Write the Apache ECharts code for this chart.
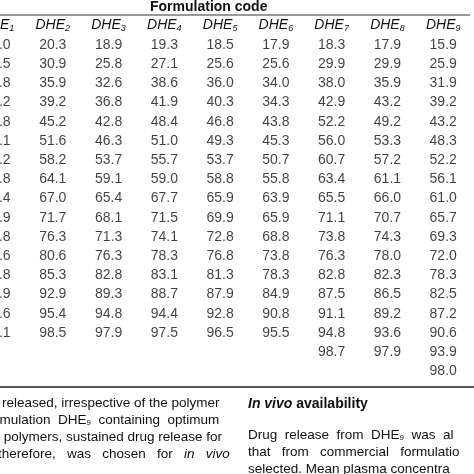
<!DOCTYPE html>
<html><head><meta charset="utf-8">
<script src="https://cdn.jsdelivr.net/npm/echarts@6/dist/echarts.min.js"></script>
<style>html,body{margin:0;padding:0;background:#fff}#c{width:474px;height:474px}</style>
</head><body><div id="c"></div>
<script>
const columns = ['1','2','3','4','5','6','7','8','9'];
const DHE1 = ['21.0','31.5','41.8','51.2','61.8','71.1','81.2','91.8','91.4','91.9','91.8','91.6','91.8','91.9','91.6','91.1'];
const DHE2 = ['20.3','30.9','35.9','39.2','45.2','51.6','58.2','64.1','67.0','71.7','76.3','80.6','85.3','92.9','95.4','98.5'];
const DHE3 = ['18.9','25.8','32.6','36.8','42.8','46.3','53.7','59.1','65.4','68.1','71.3','76.3','82.8','89.3','94.8','97.9'];
const DHE4 = ['19.3','27.1','38.6','41.9','48.4','51.0','55.7','59.0','67.7','71.5','74.1','78.3','83.1','88.7','94.4','97.5'];
const DHE5 = ['18.5','25.6','36.0','40.3','46.8','49.3','53.7','58.8','65.9','69.9','72.8','76.8','81.3','87.9','92.8','96.5'];
const DHE6 = ['17.9','25.6','34.0','34.3','43.8','45.3','50.7','55.8','63.9','65.9','68.8','73.8','78.3','84.9','90.8','95.5'];
const DHE7 = ['18.3','29.9','38.0','42.9','52.2','56.0','60.7','63.4','65.5','71.1','73.8','76.3','82.8','87.5','91.1','94.8','98.7'];
const DHE8 = ['17.9','29.9','35.9','43.2','49.2','53.3','57.2','61.1','66.0','70.7','74.3','78.0','82.3','86.5','89.2','93.6','97.9'];
const DHE9 = ['15.9','25.9','31.9','39.2','43.2','48.3','52.2','56.1','61.0','65.7','69.3','72.0','78.3','82.5','87.2','90.6','93.9','98.0'];
const allCols = [DHE1,DHE2,DHE3,DHE4,DHE5,DHE6,DHE7,DHE8,DHE9];

const data = [];
allCols.forEach((col, ci) => col.forEach((v, ri) => data.push({value:[ci, ri], label:{formatter: v}})));

const F = 'Liberation Sans, Arial, sans-serif';
const chart = echarts.init(document.getElementById('c'), null, {renderer:'canvas'});
const rowH = 19.2;
chart.setOption({
  animation:false,
  textStyle:{fontFamily:F},
  grid:{left:-30.9, width:502, top:45, height:rowH*18, containLabel:false, outerBoundsMode:'none'},
  xAxis:{type:'category', data:columns, position:'top', boundaryGap:true,
    axisLine:{show:false}, axisTick:{show:false}, splitLine:{show:false},
    axisLabel:{interval:0, margin:12, formatter: n => '{a|DHE}{s|'+n+'}',
      rich:{a:{fontFamily:F,fontStyle:'italic',fontSize:14,color:'#111'},
            s:{fontFamily:F,fontStyle:'italic',fontSize:9,color:'#111',padding:[6,0,0,0]}}}},
  yAxis:{type:'value', min:0, max:18, inverse:true, show:false},
  series:[{type:'scatter', symbolSize:0, data:data,
    label:{show:true, position:'inside', fontFamily:F, fontSize:14, color:'#111'}}],
  graphic:[
    {type:'text', x:150, y:0, style:{text:'Formulation code', font:'bold 14px '+F, fill:'#111'}},
    {type:'line', shape:{x1:0,y1:15,x2:470,y2:15}, style:{stroke:'#777', lineWidth:1.5}},
    {type:'line', shape:{x1:0,y1:387,x2:474,y2:387}, style:{stroke:'#222', lineWidth:1.5}},
    {type:'text', x:2, y:396, style:{text:'released, irrespective of the polymer', font:'13.5px '+F, fill:'#111'}},
    {type:'text', x:-5, y:413, style:{rich:{s:{fontSize:8,padding:[5,0,0,0],fontFamily:F}}, text:'rmulation  DHE{s|9}  containing  optimum', font:'13.5px '+F, fill:'#111'}},
    {type:'text', x:0, y:430, style:{text:' polymers, sustained drug release for', font:'13.5px '+F, fill:'#111'}},
    {type:'text', x:-2, y:447, style:{rich:{i:{fontStyle:'italic',fontFamily:F,fontSize:13.5}}, text:'therefore,   was   chosen   for   {i|in   vivo}', font:'13.5px '+F, fill:'#111'}},
    {type:'text', x:248, y:397, style:{rich:{i:{fontStyle:'italic',fontWeight:'bold',fontFamily:F,fontSize:14}}, text:'{i|In vivo} availability', font:'bold 14px '+F, fill:'#111'}},
    {type:'text', x:248, y:428, style:{rich:{s:{fontSize:8,padding:[5,0,0,0],fontFamily:F}}, text:'Drug  release  from  DHE{s|9}  was  al', font:'13.5px '+F, fill:'#111'}},
    {type:'text', x:248, y:445, style:{text:'that   from   commercial   formulatio', font:'13.5px '+F, fill:'#111'}},
    {type:'text', x:248, y:462, style:{text:'selected. Mean plasma concentra', font:'13.5px '+F, fill:'#111'}}
  ]
});
</script></body></html>
